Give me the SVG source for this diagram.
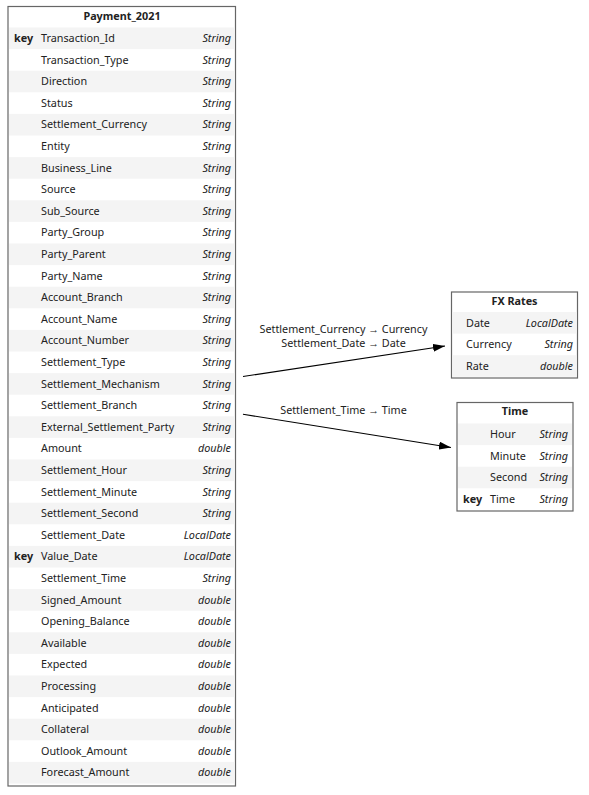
<svg xmlns="http://www.w3.org/2000/svg" width="589" height="795" viewBox="0 0 589 795">
<defs>
<style>
text{font-family:"Noto Sans","Liberation Sans",sans-serif;font-size:10.8px;fill:#222;dominant-baseline:central}
.t{font-weight:bold;text-anchor:middle}
.k{font-weight:bold}
.ty{font-style:italic;text-anchor:end}
.box{fill:#fff;stroke:#666;stroke-width:1.2}
.sh{fill:#f4f4f4}
.edge{stroke:#000;stroke-width:1.1;fill:none}
.lbl{text-anchor:middle}
</style>
<marker id="arr" viewBox="0 0 12 8" refX="12" refY="4" markerWidth="12" markerHeight="8" markerUnits="userSpaceOnUse" orient="auto">
<path d="M0,0 L12,4 L0,8 z" fill="#000"/>
</marker>
</defs>
<rect width="589" height="795" fill="#fff"/>
<g id="Payment_2021">
<rect class="box" x="8" y="6.5" width="227.5" height="779.5"/>
<g class="sh">
<rect x="9" y="27.5" width="225.5" height="21.6"/>
<rect x="9" y="70.7" width="225.5" height="21.6"/>
<rect x="9" y="113.9" width="225.5" height="21.6"/>
<rect x="9" y="157.1" width="225.5" height="21.6"/>
<rect x="9" y="200.3" width="225.5" height="21.6"/>
<rect x="9" y="243.5" width="225.5" height="21.6"/>
<rect x="9" y="286.7" width="225.5" height="21.6"/>
<rect x="9" y="329.9" width="225.5" height="21.6"/>
<rect x="9" y="373.1" width="225.5" height="21.6"/>
<rect x="9" y="416.3" width="225.5" height="21.6"/>
<rect x="9" y="459.5" width="225.5" height="21.6"/>
<rect x="9" y="502.7" width="225.5" height="21.6"/>
<rect x="9" y="545.9" width="225.5" height="21.6"/>
<rect x="9" y="589.1" width="225.5" height="21.6"/>
<rect x="9" y="632.3" width="225.5" height="21.6"/>
<rect x="9" y="675.5" width="225.5" height="21.6"/>
<rect x="9" y="718.7" width="225.5" height="21.6"/>
<rect x="9" y="761.9" width="225.5" height="21.6"/>
</g>
<text class="t" x="122" y="15.8">Payment_2021</text>
<text class="k" x="14" y="37.5">key</text>
<text class="k" x="14" y="555.9">key</text>
<g>
<text x="41" y="37.5">Transaction_Id</text>
<text x="41" y="59.1">Transaction_Type</text>
<text x="41" y="80.7">Direction</text>
<text x="41" y="102.3">Status</text>
<text x="41" y="123.9">Settlement_Currency</text>
<text x="41" y="145.5">Entity</text>
<text x="41" y="167.1">Business_Line</text>
<text x="41" y="188.7">Source</text>
<text x="41" y="210.3">Sub_Source</text>
<text x="41" y="231.9">Party_Group</text>
<text x="41" y="253.5">Party_Parent</text>
<text x="41" y="275.1">Party_Name</text>
<text x="41" y="296.7">Account_Branch</text>
<text x="41" y="318.3">Account_Name</text>
<text x="41" y="339.9">Account_Number</text>
<text x="41" y="361.5">Settlement_Type</text>
<text x="41" y="383.1">Settlement_Mechanism</text>
<text x="41" y="404.7">Settlement_Branch</text>
<text x="41" y="426.3">External_Settlement_Party</text>
<text x="41" y="447.9">Amount</text>
<text x="41" y="469.5">Settlement_Hour</text>
<text x="41" y="491.1">Settlement_Minute</text>
<text x="41" y="512.7">Settlement_Second</text>
<text x="41" y="534.3">Settlement_Date</text>
<text x="41" y="555.9">Value_Date</text>
<text x="41" y="577.5">Settlement_Time</text>
<text x="41" y="599.1">Signed_Amount</text>
<text x="41" y="620.7">Opening_Balance</text>
<text x="41" y="642.3">Available</text>
<text x="41" y="663.9">Expected</text>
<text x="41" y="685.5">Processing</text>
<text x="41" y="707.1">Anticipated</text>
<text x="41" y="728.7">Collateral</text>
<text x="41" y="750.3">Outlook_Amount</text>
<text x="41" y="771.9">Forecast_Amount</text>
</g>
<g>
<text class="ty" x="231" y="37.5">String</text>
<text class="ty" x="231" y="59.1">String</text>
<text class="ty" x="231" y="80.7">String</text>
<text class="ty" x="231" y="102.3">String</text>
<text class="ty" x="231" y="123.9">String</text>
<text class="ty" x="231" y="145.5">String</text>
<text class="ty" x="231" y="167.1">String</text>
<text class="ty" x="231" y="188.7">String</text>
<text class="ty" x="231" y="210.3">String</text>
<text class="ty" x="231" y="231.9">String</text>
<text class="ty" x="231" y="253.5">String</text>
<text class="ty" x="231" y="275.1">String</text>
<text class="ty" x="231" y="296.7">String</text>
<text class="ty" x="231" y="318.3">String</text>
<text class="ty" x="231" y="339.9">String</text>
<text class="ty" x="231" y="361.5">String</text>
<text class="ty" x="231" y="383.1">String</text>
<text class="ty" x="231" y="404.7">String</text>
<text class="ty" x="231" y="426.3">String</text>
<text class="ty" x="231" y="447.9">double</text>
<text class="ty" x="231" y="469.5">String</text>
<text class="ty" x="231" y="491.1">String</text>
<text class="ty" x="231" y="512.7">String</text>
<text class="ty" x="231" y="534.3">LocalDate</text>
<text class="ty" x="231" y="555.9">LocalDate</text>
<text class="ty" x="231" y="577.5">String</text>
<text class="ty" x="231" y="599.1">double</text>
<text class="ty" x="231" y="620.7">double</text>
<text class="ty" x="231" y="642.3">double</text>
<text class="ty" x="231" y="663.9">double</text>
<text class="ty" x="231" y="685.5">double</text>
<text class="ty" x="231" y="707.1">double</text>
<text class="ty" x="231" y="728.7">double</text>
<text class="ty" x="231" y="750.3">double</text>
<text class="ty" x="231" y="771.9">double</text>
</g>
</g>
<g id="FX_Rates">
<rect class="box" x="451.5" y="292" width="126" height="86"/>
<rect class="sh" x="452.5" y="312" width="124" height="21.6"/>
<rect class="sh" x="452.5" y="355.2" width="124" height="21.6"/>
<text class="t" x="514.5" y="300.3">FX Rates</text>
<text x="466" y="322">Date</text>
<text x="466" y="343.6">Currency</text>
<text x="466" y="365.2">Rate</text>
<text class="ty" x="573" y="322">LocalDate</text>
<text class="ty" x="573" y="343.6">String</text>
<text class="ty" x="573" y="365.2">double</text>
</g>
<g id="Time">
<rect class="box" x="457" y="402.5" width="116" height="108.5"/>
<rect class="sh" x="458" y="423.5" width="114" height="21.6"/>
<rect class="sh" x="458" y="466.7" width="114" height="21.6"/>
<text class="t" x="515" y="410.8">Time</text>
<text x="490" y="433.5">Hour</text>
<text x="490" y="455.1">Minute</text>
<text x="490" y="476.7">Second</text>
<text class="k" x="463" y="498.3">key</text>
<text x="490" y="498.3">Time</text>
<text class="ty" x="568" y="433.5">String</text>
<text class="ty" x="568" y="455.1">String</text>
<text class="ty" x="568" y="476.7">String</text>
<text class="ty" x="568" y="498.3">String</text>
</g>
<g id="connectors">
<line class="edge" x1="243" y1="376.5" x2="445" y2="346" marker-end="url(#arr)"/>
<text class="lbl" x="343.5" y="328.3">Settlement_Currency → Currency</text>
<text class="lbl" x="343.5" y="342.6">Settlement_Date → Date</text>
<line class="edge" x1="243" y1="414.3" x2="451" y2="447.5" marker-end="url(#arr)"/>
<text class="lbl" x="343.5" y="409.2">Settlement_Time → Time</text>
</g>
</svg>
